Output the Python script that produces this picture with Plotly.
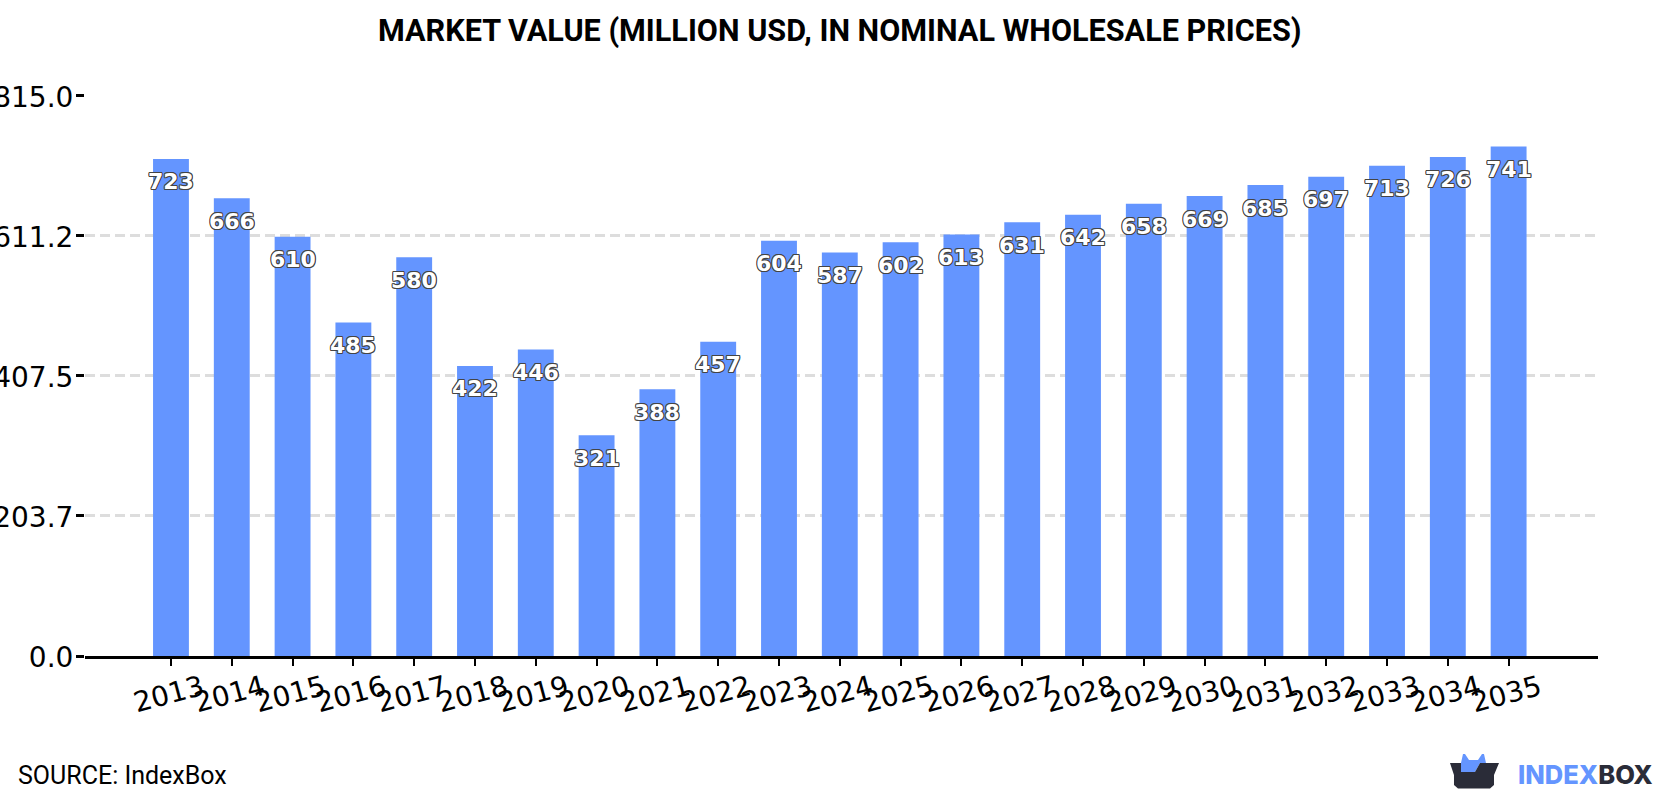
import plotly.graph_objects as go

years = list(range(2013, 2036))
values = [723, 666, 610, 485, 580, 422, 446, 321, 388, 457, 604, 587, 602,
          613, 631, 642, 658, 669, 685, 697, 713, 726, 741]
y_ticks = [0.0, 203.7, 407.5, 611.2, 815.0]
y_tick_labels = ["0.0", "203.7", "407.5", "611.2", "815.0"]

TITLE = "MARKET VALUE (MILLION USD, IN NOMINAL WHOLESALE PRICES)"
BAR = "#6495FF"
DARK = "#2A2C38"

W, H = 1680, 800
L, R, T, B = 85, 82, 95.4, 144
OUTLINE = ",".join(f"{dx}px {dy}px 0.3px #444" for dx, dy in
                   [(-0.8, -0.8), (0.8, -0.8), (-0.8, 0.8), (0.8, 0.8),
                    (0, 1), (0, -1), (1, 0), (-1, 0)])


def px(x, y):
    """Page pixels to paper coordinates, for the logo and the footer."""
    return (x - L) / (W - L - R), (H - B - y) / (H - T - B)


def path(points):
    parts = []
    for i, (x, y) in enumerate(points):
        u, v = px(x, y)
        parts.append(f"{'M' if i == 0 else 'L'}{u:.5f},{v:.5f}")
    return " ".join(parts) + " Z"


logo_ears = [(1461, 763), (1463, 754), (1465, 754), (1469, 760), (1478, 760),
             (1482, 754), (1484, 754), (1486, 763), (1480, 763), (1475, 772), (1461, 772)]
logo_box = [(1450, 763), (1461, 763), (1461, 772), (1475, 772), (1480, 763), (1499, 763),
            (1494, 775), (1494, 785), (1490, 788.5), (1458, 788.5), (1454, 785), (1454, 775)]

fig = go.Figure(go.Bar(x=years, y=values, width=0.59, marker_color=BAR, marker_line_width=0,
                       hoverinfo="x+y"))

annotations = [
    dict(x=yr, y=v, xref="x", yref="y", text=f"<b>{v}</b>", showarrow=False, yshift=-23,
         font=dict(family="DejaVu Sans", size=22, color="white", shadow=OUTLINE))
    for yr, v in zip(years, values)
]
annotations += [
    dict(xref="paper", yref="paper", x=px(840, 0)[0], y=px(0, 31)[1], yanchor="middle",
         text=f"<b>{TITLE}</b>", showarrow=False,
         font=dict(family="Roboto", size=30.6, color="#000000")),
    dict(xref="paper", yref="paper", x=px(16, 0)[0], y=px(0, 775)[1], xanchor="left", yanchor="middle",
         text="SOURCE: IndexBox", showarrow=False,
         font=dict(family="Roboto", size=25, color="#000000")),
    dict(xref="paper", yref="paper", x=px(1516, 0)[0], y=px(0, 774)[1], xanchor="left", yanchor="middle",
         text=f"<span style='color:{BAR}'>INDEX</span><span style='color:{DARK}'>BOX</span>",
         showarrow=False, font=dict(family="Inter", size=25.5, weight=800)),
]

fig.update_layout(
    width=W, height=H, margin=dict(l=L, r=R, t=T, b=B, autoexpand=False),
    paper_bgcolor="white", plot_bgcolor="white", showlegend=False,
    annotations=annotations,
    shapes=[
        dict(type="path", xref="paper", yref="paper", path=path(logo_ears),
             fillcolor=BAR, line_width=0, layer="above"),
        dict(type="path", xref="paper", yref="paper", path=path(logo_box),
             fillcolor=DARK, line_width=0, layer="above"),
    ],
)
fig.update_xaxes(
    range=[2013 - 1.414, 2013 + 23.47], tickmode="array", tickvals=years, ticktext=[str(y) for y in years],
    tickangle=-15, ticks="outside", ticklen=7, tickwidth=2, tickcolor="#000",
    ticklabelshift=31, ticklabelstandoff=-5,
    tickfont=dict(family="DejaVu Sans", size=28, color="#000"),
    showline=True, linecolor="#000", linewidth=3, showgrid=False, zeroline=False,
)
fig.update_yaxes(
    range=[0, 816], tickmode="array", tickvals=y_ticks, ticktext=y_tick_labels,
    ticks="outside", ticklen=8, tickwidth=3, tickcolor="#000",
    ticklabelstandoff=-3, ticklabelshift=1,
    tickfont=dict(family="DejaVu Sans", size=28, color="#000"),
    showgrid=True, gridcolor="#DDDDDD", gridwidth=3, griddash="10px,5px",
    showline=False, zeroline=False,
)

fig.write_html("out.html")
